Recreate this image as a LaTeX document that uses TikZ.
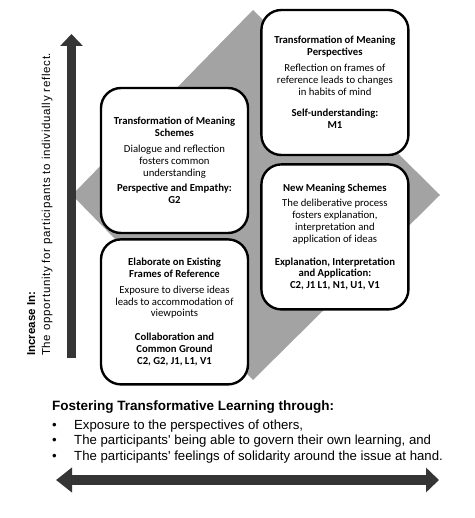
\documentclass[tikz,border=0pt]{standalone}
\usepackage{fontspec}
\setmainfont{Carlito}
\newfontfamily\arialfont{Liberation Sans}
\usepackage{tikz}
\usetikzlibrary{arrows.meta,positioning}
\definecolor{tlgray}{HTML}{A3A3A3}
\definecolor{tldark}{HTML}{353535}

\begin{document}
\begin{tikzpicture}[x=1pt,y=-1pt,>=Latex]
    \tikzset{box/.style={draw=black,line width=2.4pt,fill=white,rounded corners=20pt,minimum width=147pt,minimum height=145pt,align=center,inner sep=2pt,font=\fontsize{10.7}{11.8}\selectfont},
      bigarrow/.style={tldark,line width=9pt},
      sidetext/.style={font=\arialfont\fontsize{11.5}{15}\selectfont,align=left,inner sep=0pt}}
    \useasboundingbox (0,0) rectangle (474,518);
    % background diamond
    \fill[tlgray] (253,10) -- (440,195) -- (253,380) -- (72,195) -- cycle;
    % the four stages
    \node[box] (schemes) at (174.5,160.5) {\textbf{Transformation of Meaning}\\\textbf{Schemes}\\[4pt]Dialogue and reflection\\fosters common\\understanding\\[4pt]\textbf{Perspective and Empathy:}\\\textbf{G2}};
    \node[box,below=4pt of schemes] (elaborate) {\textbf{Elaborate on Existing}\\\textbf{Frames of Reference}\\[4pt]Exposure to diverse ideas\\leads to accommodation of\\viewpoints\\[12pt]\textbf{Collaboration and}\\\textbf{Common Ground}\\\textbf{C2, G2, J1, L1, V1}};
    \node[box,right=11pt of schemes,yshift=78pt] (perspectives) {\textbf{Transformation of Meaning}\\\textbf{Perspectives}\\[4pt]Reflection on frames of\\reference leads to changes\\in habits of mind\\[10pt]\textbf{Self-understanding:}\\\textbf{M1}};
    \node[box,below=7pt of perspectives] (newschemes) {\textbf{New Meaning Schemes}\\[4pt]The deliberative process\\fosters explanation,\\interpretation and\\application of ideas\\[11pt]\textbf{Explanation, Interpretation}\\\textbf{and Application:}\\\textbf{C2, J1 L1, N1, U1, V1}};
    % vertical axis
    \coordinate (vlow) at (71.5,358);
    \coordinate (vhigh) at (71.5,34);
    \draw[bigarrow,-{Triangle[length=12pt,width=22pt]}] (vlow) -- (vhigh);
    \node[sidetext,rotate=90,anchor=north west] (axis) at (27,356) {\textbf{Increase In:}\\\addfontfeature{LetterSpace=6}The opportunity for participants to individually reflect.};
    % horizontal axis
    \coordinate (hleft) at (56,480);
    \coordinate (hright) at (439,480);
    \draw[bigarrow,line width=10.5pt,{Triangle[length=16pt,width=24pt]}-{Triangle[length=13pt,width=24pt]}] (hleft) -- (hright);
    \node[sidetext,anchor=west,font=\arialfont\bfseries\fontsize{13.5}{15}\selectfont] (fostering) at (52,407) {Fostering Transformative Learning through:};
    \node[sidetext,anchor=north west,font=\arialfont\fontsize{13.2}{15.5}\selectfont] (means) at ([yshift=-4.5pt]fostering.south west) {%
      \begin{tabular}{@{}p{22pt}@{}l@{}}
      \textbullet & Exposure to the perspectives of others,\\
      \textbullet & The participants' being able to govern their own learning, and\\
      \textbullet & The participants' feelings of solidarity around the issue at hand.
      \end{tabular}};
  \end{tikzpicture}
\end{document}
